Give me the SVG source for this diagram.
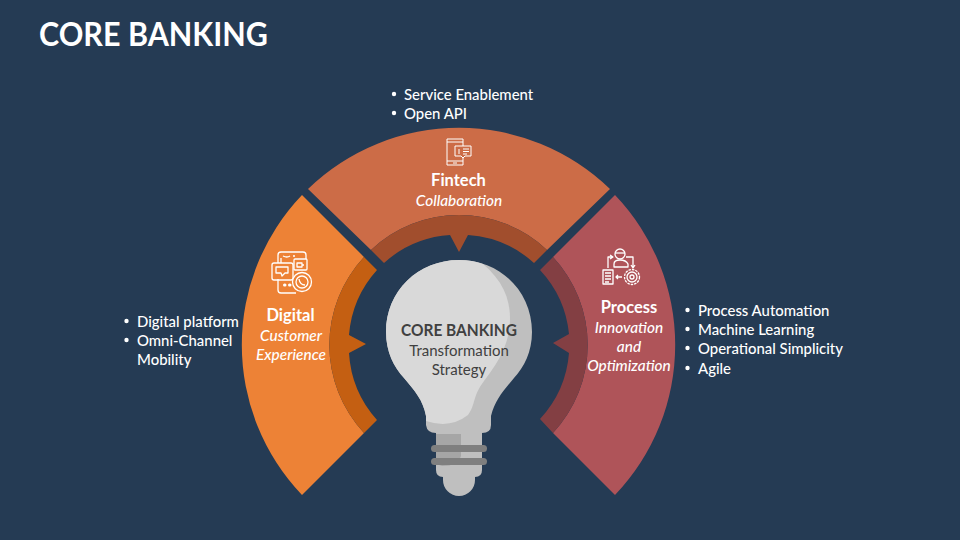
<svg xmlns="http://www.w3.org/2000/svg" width="960" height="540" viewBox="0 0 960 540">
<style>
text{font-family:Lato,"Open Sans","Liberation Sans",sans-serif;fill:#fff}
.h{font-size:16.5px;font-weight:700;text-anchor:middle}
.s{font-size:15.4px;font-style:italic;text-anchor:middle;font-weight:500}
.b{font-size:14.9px;font-weight:500}
.i{fill:none;stroke:#fff;stroke-width:1.3;stroke-linejoin:round}
.d{fill:#fff}
.c{fill:#404040;text-anchor:middle}
</style>
<rect width="960" height="540" fill="#253b54"/>
<text id="title" x="39" y="46" font-size="32" font-weight="700" textLength="229" lengthAdjust="spacingAndGlyphs">CORE BANKING</text>
<g id="bullets-top">
<circle class="d" cx="394" cy="94" r="2.2"/><text class="b" x="404" y="100">Service Enablement</text>
<circle class="d" cx="394" cy="113" r="2.2"/><text class="b" x="404" y="119">Open API</text>
</g>
<g id="bullets-left">
<circle class="d" cx="126.500" cy="321" r="2.2"/><text class="b" x="137" y="327">Digital platform</text>
<circle class="d" cx="126.500" cy="340" r="2.2"/><text class="b" x="137" y="346">Omni-Channel</text>
<text class="b" x="137" y="365">Mobility</text>
</g>
<g id="bullets-right">
<circle class="d" cx="687.500" cy="310" r="2.2"/><text class="b" x="698" y="316">Process Automation</text>
<circle class="d" cx="687.500" cy="329" r="2.2"/><text class="b" x="698" y="335">Machine Learning</text>
<circle class="d" cx="687.500" cy="348" r="2.2"/><text class="b" x="698" y="354">Operational Simplicity</text>
<circle class="d" cx="687.500" cy="368" r="2.2"/><text class="b" x="698" y="374">Agile</text>
</g>
<g id="fintech">
<path d="M308 189A217 217 0 0 1 610 189L547 250A128 128 0 0 0 371 250Z" fill="#cc6c47"/>
<path d="M371 250A128 128 0 0 1 547 250L534 263A109 109 0 0 0 468 235L459 252L450 235A109 109 0 0 0 384 263Z" fill="#a14e2d"/>
<g class="i" style="stroke-width:1">
<path d="M463 146V139H447V165H463V158"/><path d="M447 142H463M447 161H463M453 163H457"/>
<path d="M455 146H471V156H465L463 158L461 156H455Z"/><path d="M463 149H469M463 151.500H469M463 154H467M459 149V154"/>
</g>
<text class="h" x="458.500" y="186">Fintech</text>
<text class="s" x="459" y="206">Collaboration</text>
</g>
<g id="digital">
<path d="M302 195L364 257A129 129 0 0 0 364 433L302 495A217 217 0 0 1 302 195Z" fill="#ed8236"/>
<path d="M364 257L377 270A110 110 0 0 0 349 335L366 344L349 353A110 110 0 0 0 377 420L364 433A129 129 0 0 1 364 257Z" fill="#c45f12"/>
<g class="i">
<path d="M278 263V255Q278 252 281 252H303Q306 252 306 255V259"/>
<path d="M278 279V290Q278 293 281 293H296"/>
<path d="M283 256Q287 258 290 256M293 256H295M281 263V258"/>
<rect x="294" y="259" width="13" height="11" rx="1"/><path d="M297 263H302V267H297ZM302 265H304"/>
<rect x="272" y="263" width="21" height="17" rx="2"/>
<path d="M276 267H288V273H285L282 276L281 273H276Z"/>
<circle cx="302" cy="282" r="9.500"/><circle cx="302" cy="282" r="6"/>
<path d="M299 279Q300 285 305 285"/>
<path d="M284.500 285h.5M289.500 285h.5" stroke-width="3" stroke-linecap="round"/>
</g>
<text class="h" x="290.500" y="321">Digital</text>
<text class="s" x="291" y="341">Customer</text>
<text class="s" x="291" y="360">Experience</text>
</g>
<g id="process">
<path d="M615 195L553 257A129 129 0 0 1 553 433L615 495A217 217 0 0 0 615 195Z" fill="#af5459"/>
<path d="M553 257L540 270A110 110 0 0 1 569 334L553 343L569 353A110 110 0 0 1 540 419L553 433A129 129 0 0 0 553 257Z" fill="#833f43"/>
<g class="i">
<circle cx="620" cy="254" r="5"/><path d="M614 267V264Q614 260 620 260Q626 260 628 264V267Z"/><path d="M615 253H625"/>
<path d="M608 268V257H613M610 255L613 257L610 259"/><path d="M626 257H633V268M631 265L633 268L635 265"/>
<rect x="603" y="270" width="10" height="14"/><path d="M605 273H611M605 276H611M605 279H611M605 282H609"/>
<path d="M616 277H622M618 275L616 277L618 279"/>
<circle cx="632" cy="277" r="7.500" stroke-dasharray="2.500 1"/><circle cx="632" cy="277" r="5"/><circle cx="632" cy="277" r="2"/>
</g>
<text class="h" x="629" y="313">Process</text>
<text class="s" x="629" y="333">Innovation</text>
<text class="s" x="629" y="352">and</text>
<text class="s" x="629" y="371">Optimization</text>
</g>
<g id="bulb">
<path d="M436 433V470Q436 477 443 477V480A16 16 0 0 0 475 480V477Q482 477 482 470V433Z" fill="#bfbfbf"/>
<path d="M436 434H461V456Q458 466 442 466L436 464Z" fill="#a6a6a6"/>
<path d="M459 260C418 260 386 291 386 332C386 352 394 367 404 378C415 391 423 400 426 416V425Q427 433 436 433H482Q491 433 491 425V416C495 400 503 391 514 378C524 367 532 352 532 332C532 291 500 260 459 260Z" fill="#bfbfbf"/>
<path d="M459 260C418 260 386 291 386 332C386 352 394 367 404 378C415 391 423 400 426 416V421Q450 429 468 415C476 404 472 397 484 381C502 358 510 340 510 318C510 298 502 280 483 264Q472 260 459 260Z" fill="#d9d9d9"/>
<rect x="431" y="445" width="56" height="7" rx="3.500" fill="#7f7f7f"/>
<rect x="431" y="458" width="56" height="7" rx="3.500" fill="#7f7f7f"/>
<text class="c" x="459" y="336" font-size="17" font-weight="700" textLength="116" lengthAdjust="spacingAndGlyphs">CORE BANKING</text>
<text class="c" x="459" y="356" font-size="15">Transformation</text>
<text class="c" x="459" y="375" font-size="15">Strategy</text>
</g>
</svg>
